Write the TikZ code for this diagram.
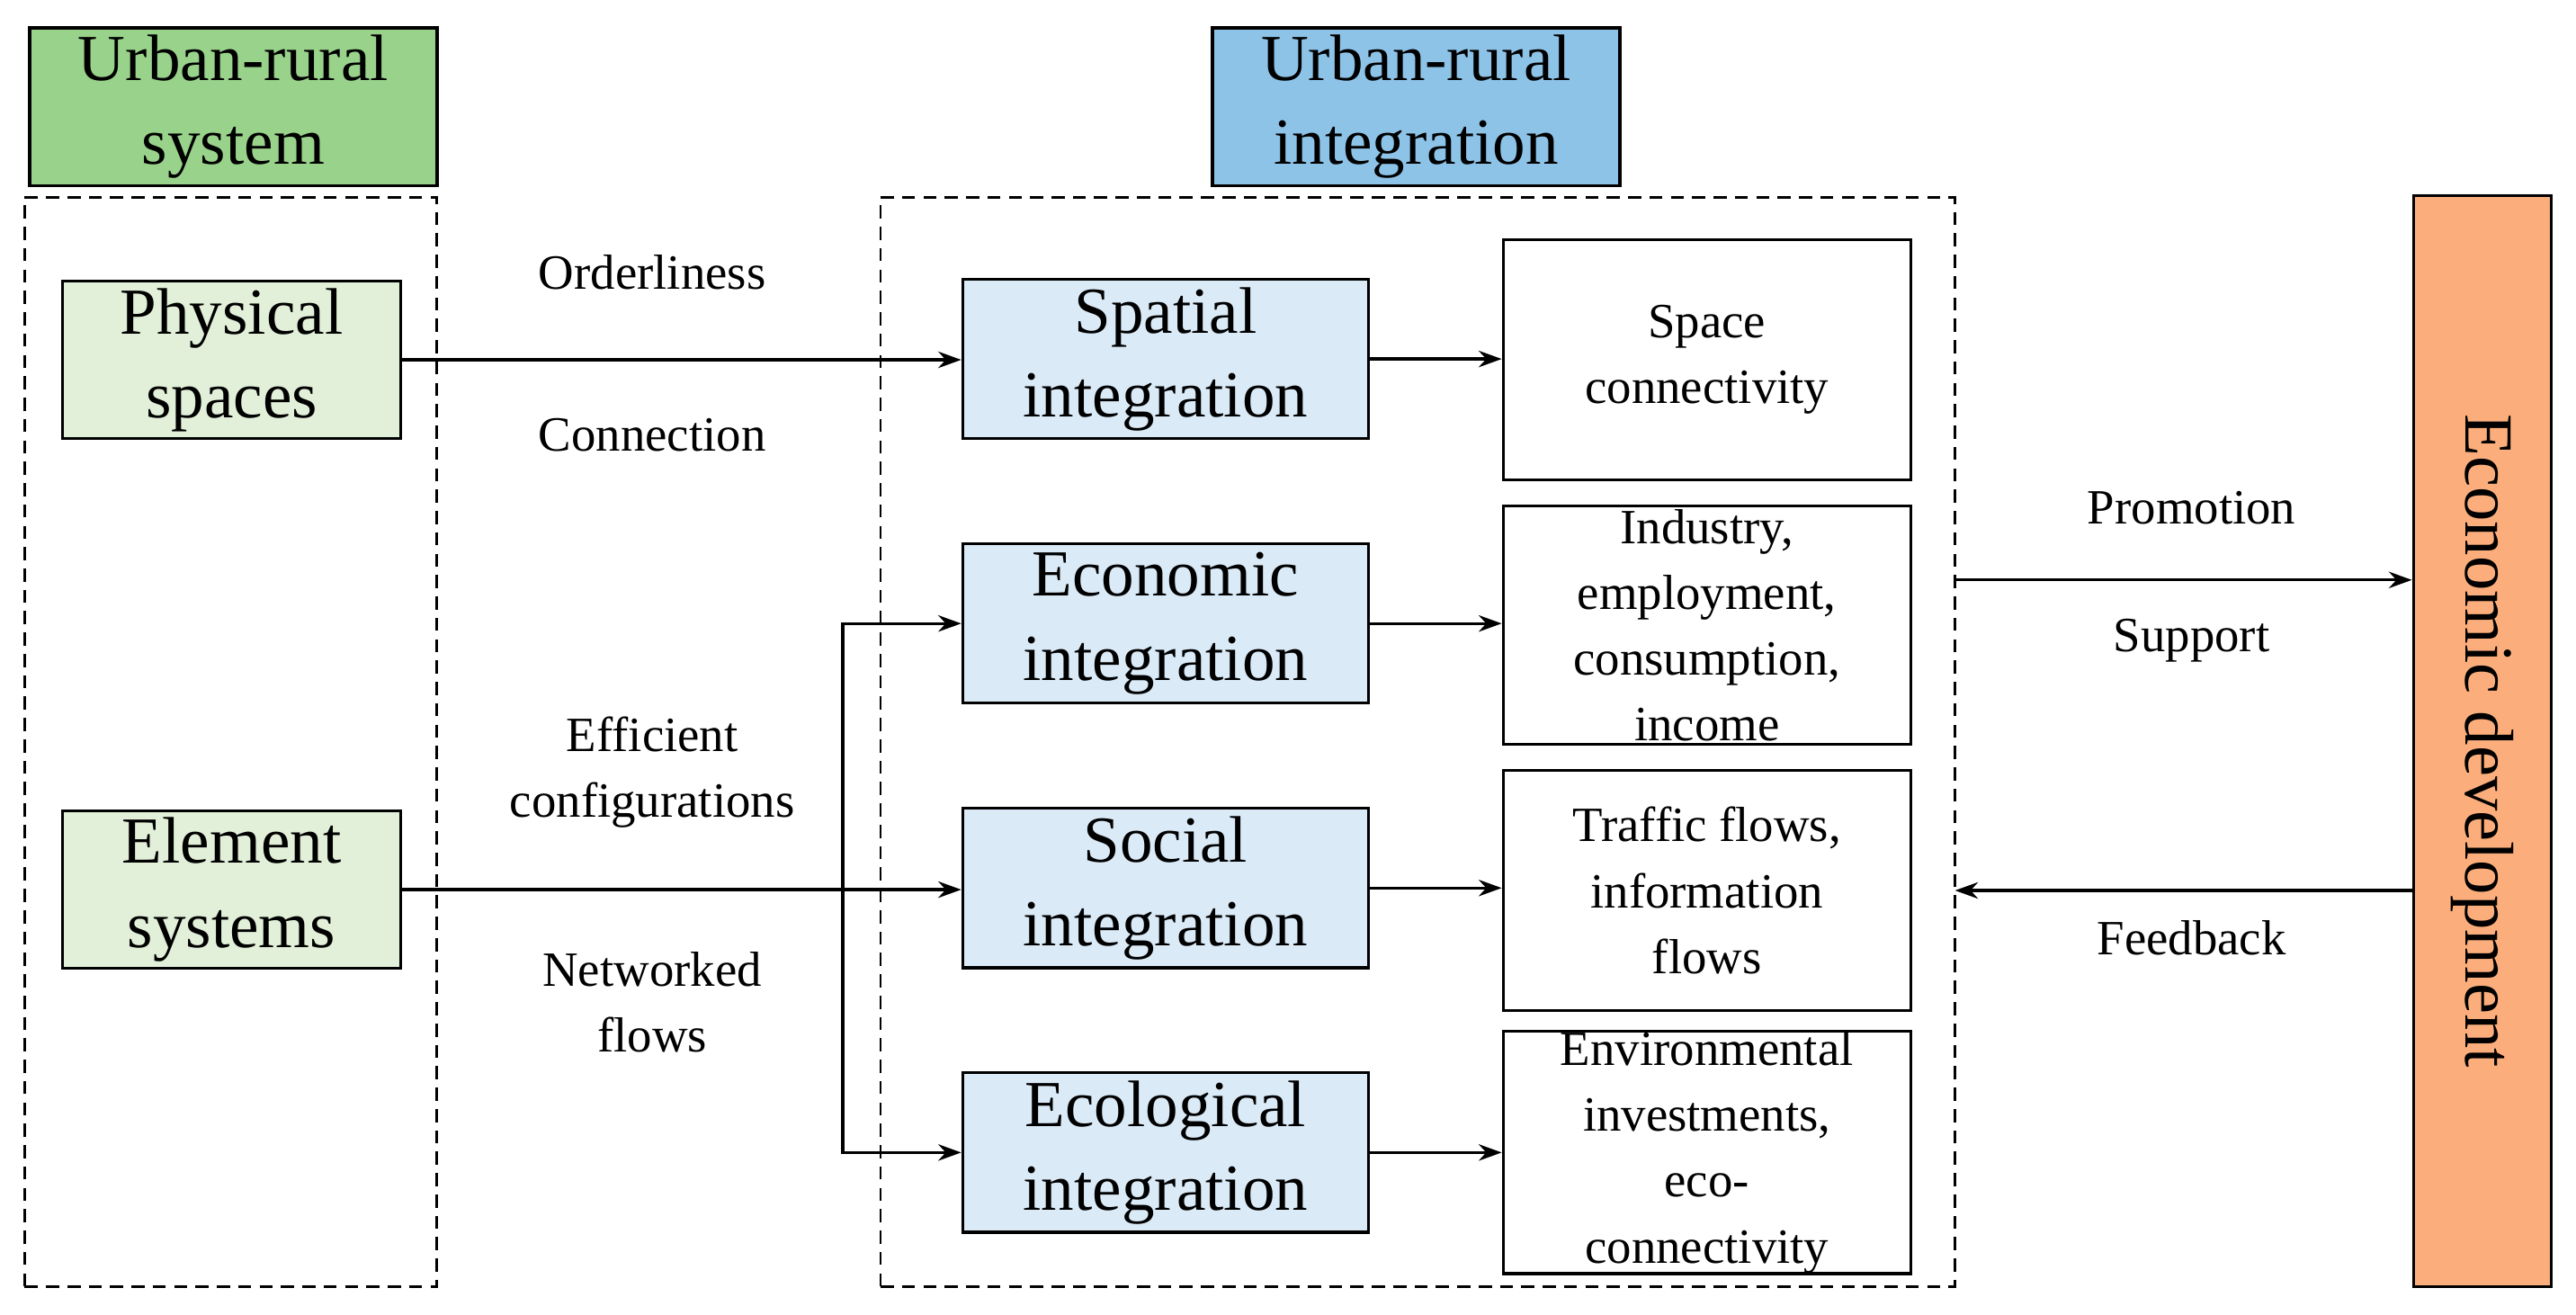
\documentclass[tikz,border=0pt]{standalone}
\usepackage{fontspec}
\setmainfont{Liberation Serif}
\usetikzlibrary{arrows.meta}
\begin{document}
\begin{tikzpicture}[x=1pt,y=1pt,
  big/.style={draw=black,line width=0.9pt,align=center,inner sep=0pt,font=\fontsize{20}{25.5}\selectfont},
  wbox/.style={draw=black,line width=0.9pt,fill=white,align=center,inner sep=0pt,minimum width=124pt,font=\fontsize{15}{20}\selectfont},
  dbox/.style={draw=black,dash pattern=on 4pt off 2.5pt,line width=0.8pt,inner sep=0pt},
  lbl/.style={align=center,inner sep=0pt,font=\fontsize{15}{20}\selectfont},
  arr/.style={line width=0.9pt,-{Stealth[length=7pt,width=5pt]}},
  ln/.style={line width=0.9pt}]
\useasboundingbox (0,0) rectangle (784,-400);
\definecolor{hgreen}{HTML}{99D28A}
\definecolor{lgreen}{HTML}{E2F0D9}
\definecolor{hblue}{HTML}{8EC3E8}
\definecolor{lblue}{HTML}{DAEAF7}
\definecolor{orng}{HTML}{FBAE7C}
\node[big,fill=hgreen,minimum width=124pt,minimum height=48pt] (gh) at (71,-32.5) {Urban-rural\\system};
\node[dbox,minimum width=125.5pt,minimum height=331.5pt] (ld) at (70.25,-225.75) {};
\node[big,fill=lgreen,minimum width=103pt,minimum height=48pt] (phys) at (70.5,-109.5) {Physical\\spaces};
\node[big,fill=lgreen,minimum width=103pt,minimum height=48pt] (elem) at (70.5,-270.75) {Element\\systems};
\node[big,fill=hblue,minimum width=124pt,minimum height=48pt] (bh) at (431,-32.5) {Urban-rural\\integration};
\node[dbox,minimum width=327pt,minimum height=331.5pt] (md) at (431.5,-225.75) {};
\node[big,fill=lblue,minimum width=123.5pt,minimum height=48.5pt] (spa) at (354.75,-109.25) {Spatial\\integration};
\node[big,fill=lblue,minimum width=123.5pt,minimum height=48.5pt] (eco) at (354.75,-189.75) {Economic\\integration};
\node[big,fill=lblue,minimum width=123.5pt,minimum height=48.5pt] (soc) at (354.75,-270.25) {Social\\integration};
\node[big,fill=lblue,minimum width=123.5pt,minimum height=48.5pt] (ecl) at (354.75,-350.75) {Ecological\\integration};
\node[wbox,minimum height=73pt] (w1) at (519.5,-109.5) {Space\\connectivity};
\node[wbox,minimum height=72.5pt] (w2) at (519.5,-190.25) {Industry,\\employment,\\consumption,\\income};
\node[wbox,minimum height=73pt] (w3) at (519.5,-271) {Traffic flows,\\information\\flows};
\node[wbox,minimum height=73.5pt] (w4) at (519.5,-350.75) {Environmental\\investments,\\eco-\\connectivity};
\node[big,fill=orng,minimum width=42pt,minimum height=332pt] (ed) at (755.5,-225.5) {};
\node[inner sep=0pt,rotate=-90,font=\fontsize{21}{25.5}\selectfont] (edt) at (ed.center) {Economic development};
\draw[arr] (phys.east) -- (phys.east -| spa.west);
\node[lbl] (l1) at (198.5,-83) {Orderliness};
\node[lbl] (l2) at (198.5,-132.5) {Connection};
\coordinate (j) at (256.5,-270.75);
\draw[ln] (elem.east) -- (j);
\draw[arr] (j) |- (eco.west);
\draw[arr] (j) |- (ecl.west);
\draw[arr] (j) -- (j -| soc.west);
\node[lbl] (l3) at (198.5,-235) {Efficient\\configurations};
\node[lbl] (l4) at (198.5,-305) {Networked\\flows};
\draw[arr] (spa.east) -- (w1.west |- spa.east);
\draw[arr] (eco.east) -- (w2.west |- eco.east);
\draw[arr] (soc.east) -- (w3.west |- soc.east);
\draw[arr] (ecl.east) -- (w4.west |- ecl.east);
\coordinate (p1) at (595,-176.5);
\coordinate (f1) at (595,-271);
\draw[arr] (p1) -- (p1 -| ed.west);
\draw[arr] (f1 -| ed.west) -- (f1);
\node[lbl] (l5) at (667,-154.5) {Promotion};
\node[lbl] (l6) at (667,-195) {Support};
\node[lbl] (l7) at (667,-285.5) {Feedback};
\end{tikzpicture}
\end{document}
